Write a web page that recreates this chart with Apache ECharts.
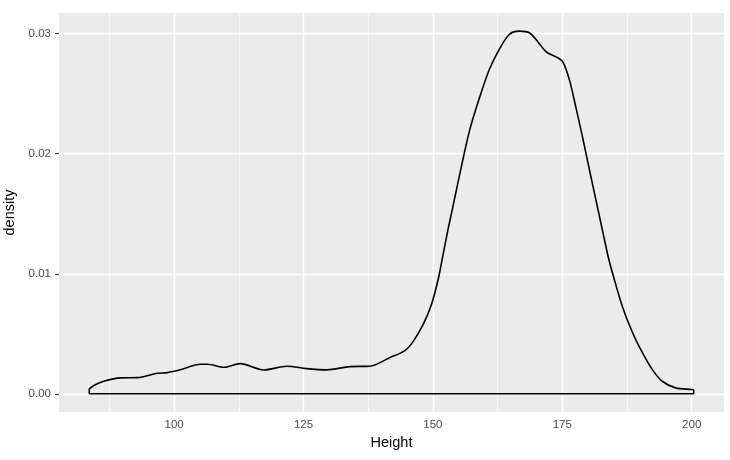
<!DOCTYPE html>
<html>
<head>
<meta charset="utf-8">
<script src="https://cdn.jsdelivr.net/npm/echarts@6/dist/echarts.min.js"></script>
<style>html,body{margin:0;padding:0;background:#fff}#c{width:730px;height:460px}</style>
</head>
<body>
<div id="c"></div>
<script>
// Density curve (Height -> density)
var heights = [83.6,84.5,86.4,89.7,92.9,96.7,98.7,101.2,105.1,106.4,109.6,112.8,117.3,121.8,125.6,129.5,134.0,137.8,141.7,144.6,146.2,148.1,149.7,151.0,151.9,152.9,153.9,155.5,157.1,159.0,160.9,162.9,164.8,166.7,168.7,170.3,171.9,173.8,175.1,176.4,177.6,178.9,180.2,181.5,182.8,183.9,184.7,186.6,188.6,190.5,192.4,194.3,196.9,200.1,200.4];
var densities = [0.00042,0.00069,0.00105,0.00133,0.00135,0.00171,0.00177,0.00200,0.00246,0.00246,0.00221,0.00252,0.00199,0.00230,0.00210,0.00200,0.00227,0.00230,0.00302,0.00360,0.00437,0.00576,0.00742,0.00950,0.01144,0.01365,0.01566,0.01892,0.02196,0.02465,0.02700,0.02875,0.02994,0.03020,0.03005,0.02930,0.02847,0.02806,0.02764,0.02610,0.02390,0.02140,0.01874,0.01613,0.01353,0.01135,0.01006,0.00728,0.00507,0.00341,0.00202,0.00105,0.00050,0.00036,0.00033];
var xMajorTicks = [100,125,150,175,200];
var xMinorTicks = [87.5,112.5,137.5,162.5,187.5];
var yMajorTicks = [0,0.01,0.02,0.03];
var yMinorTicks = [0.005,0.015,0.025];
var xTitle = 'Height';
var yTitle = 'density';

var curve = heights.map(function(h,i){return [h,densities[i]];});
var n = heights.length;
var outline = [
  [heights[n-1], densities[n-1]],
  [heights[n-1], 0],
  [heights[0], 0],
  [heights[0], densities[0]]
];
var xRange = heights[n-1]-heights[0];
var yMax = Math.max.apply(null, densities);

var gridLines = [];
xMajorTicks.forEach(function(v){gridLines.push({xAxis:v, lineStyle:{width:1.4}});});
xMinorTicks.forEach(function(v){gridLines.push({xAxis:v, lineStyle:{width:0.7}});});
yMajorTicks.forEach(function(v){gridLines.push({yAxis:v, lineStyle:{width:1.4}});});
yMinorTicks.forEach(function(v){gridLines.push({yAxis:v, lineStyle:{width:0.7}});});

var chart = echarts.init(document.getElementById('c'), null, {renderer:'canvas'});
chart.setOption({
  animation:false,
  backgroundColor:'#ffffff',
  textStyle:{fontFamily:'Liberation Sans'},
  grid:{left:59, right:6, top:13, bottom:48, show:true, backgroundColor:'#EBEBEB', borderWidth:0,
    containLabel:false, outerBoundsMode:'none'},
  xAxis:{
    type:'value',
    min: heights[0]-0.05*xRange,
    max: heights[n-1]+0.05*xRange,
    name: xTitle, nameLocation:'middle', nameGap:19,
    nameTextStyle:{color:'#000', fontSize:14.5, fontFamily:'Liberation Sans'},
    axisLine:{show:false},
    axisTick:{show:true, length:4, lineStyle:{color:'#333333', width:1}, customValues:xMajorTicks},
    axisLabel:{color:'#4D4D4D', fontSize:11.5, margin:7, customValues:xMajorTicks, fontFamily:'Liberation Sans'},
    splitLine:{show:false}
  },
  yAxis:{
    type:'value',
    min: -0.05*yMax,
    max: yMax*1.05,
    name: yTitle, nameLocation:'middle', nameGap:40, nameRotate:90,
    nameTextStyle:{color:'#000', fontSize:14.5, fontFamily:'Liberation Sans'},
    axisLine:{show:false},
    axisTick:{show:true, length:4, lineStyle:{color:'#333333', width:1}, customValues:yMajorTicks},
    axisLabel:{color:'#4D4D4D', fontSize:11.5, margin:8, customValues:yMajorTicks, fontFamily:'Liberation Sans',
      formatter:function(v){return v.toFixed(2);}},
    splitLine:{show:false}
  },
  series:[
    {type:'line', data:[], silent:true, z:1,
      markLine:{silent:true, z:1, symbol:'none', label:{show:false}, animation:false,
        lineStyle:{color:'#FFFFFF', type:'solid'}, data:gridLines}},
    {type:'line', data:outline, showSymbol:false, symbol:'none', z:10, silent:true,
      lineStyle:{color:'#000', width:1.5}},
    {type:'line', data:curve, showSymbol:false, symbol:'none', z:10, silent:true,
      smooth:0.3, lineStyle:{color:'#000', width:1.6}}
  ]
});
</script>
</body>
</html>
